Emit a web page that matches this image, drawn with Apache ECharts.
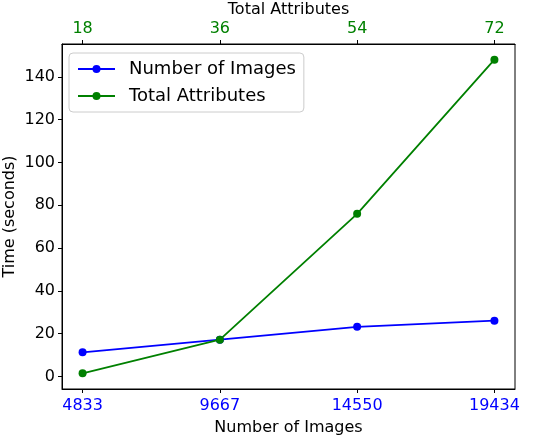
<!DOCTYPE html>
<html>
<head>
<meta charset="utf-8">
<script src="https://cdn.jsdelivr.net/npm/echarts@6/dist/echarts.min.js"></script>
<style>html,body{margin:0;padding:0;background:#fff;}#c{width:534px;height:437px;}</style>
</head>
<body>
<div id="c"></div>
<script>
const imageCounts = ['4833', '9667', '14550', '19434'];
const attributeCounts = ['18', '36', '54', '72'];
const imagesTime = [11.3, 17.2, 23.2, 26.1];
const attributesTime = [1.5, 17.2, 76, 148];
const yTicks = [0, 20, 40, 60, 80, 100, 120, 140];

const FONT = 'DejaVu Sans';
const BLUE = '#0000ff';
const GREEN = '#008000';
const positions = imageCounts.map((_, i) => i);

const xMin = -0.15, xMax = positions.length - 1 + 0.15;
const allY = imagesTime.concat(attributesTime);
const yLo = Math.min(...allY), yHi = Math.max(...allY);
const yPad = (yHi - yLo) * 0.05;

const chart = echarts.init(document.getElementById('c'));
chart.setOption({
  animation: false,
  backgroundColor: '#fff',
  textStyle: { fontFamily: FONT },
  grid: { left: 62, right: 19, top: 44, bottom: 48, containLabel: false, outerBoundsMode: 'none',
    show: true, borderColor: '#000', borderWidth: 1, backgroundColor: 'transparent' },
  legend: {
    orient: 'vertical', left: 69, top: 53,
    padding: [6, 8, 6, 8],
    itemWidth: 37, itemHeight: 10, itemGap: 7,
    borderColor: '#cccccc', borderWidth: 1, borderRadius: 4,
    backgroundColor: 'rgba(255,255,255,0.8)',
    textStyle: { fontFamily: FONT, fontSize: 18, color: '#000', lineHeight: 20, padding: [0, 0, 0, 9] },
    data: ['Number of Images', 'Total Attributes']
  },
  xAxis: [
    {
      type: 'value', position: 'bottom', min: xMin, max: xMax,
      name: 'Number of Images', nameLocation: 'middle', nameGap: 31, nameMoveOverlap: false,
      nameTextStyle: { fontFamily: FONT, fontSize: 16, color: '#000' },
      axisLine: { show: true, onZero: false, lineStyle: { color: '#000', width: 1 } },
      axisTick: { show: true, length: 4, lineStyle: { color: '#000' }, customValues: positions },
      axisLabel: { show: true, margin: 9, fontFamily: FONT, fontSize: 16, color: BLUE, customValues: positions,
        formatter: v => imageCounts[Math.round(v)] },
      splitLine: { show: false }
    },
    {
      type: 'value', position: 'top', min: xMin, max: xMax,
      name: 'Total Attributes', nameLocation: 'middle', nameGap: 26, nameMoveOverlap: false,
      nameTextStyle: { fontFamily: FONT, fontSize: 16, color: '#000' },
      axisLine: { show: true, onZero: false, lineStyle: { color: '#000', width: 1 } },
      axisTick: { show: true, length: 4, lineStyle: { color: '#000' }, customValues: positions },
      axisLabel: { show: true, margin: 7, fontFamily: FONT, fontSize: 16, color: GREEN, customValues: positions,
        formatter: v => attributeCounts[Math.round(v)] },
      splitLine: { show: false }
    }
  ],
  yAxis: {
    type: 'value', min: yLo - yPad, max: yHi + yPad,
    name: 'Time (seconds)', nameLocation: 'middle', nameGap: 44, nameRotate: 90, nameMoveOverlap: false,
    nameTextStyle: { fontFamily: FONT, fontSize: 16, color: '#000' },
    axisLine: { show: true, onZero: false, lineStyle: { color: '#000', width: 1 } },
    axisTick: { show: true, length: 4, lineStyle: { color: '#000' }, customValues: yTicks },
    axisLabel: { show: true, margin: 7, fontFamily: FONT, fontSize: 16, color: '#000', customValues: yTicks },
    splitLine: { show: false }
  },
  series: [
    {
      name: 'Number of Images', type: 'line', xAxisIndex: 0,
      data: imagesTime.map((v, i) => [positions[i], v]),
      symbol: 'circle', symbolSize: 8, showSymbol: true,
      lineStyle: { color: BLUE, width: 1.8 }, itemStyle: { color: BLUE }
    },
    {
      name: 'Total Attributes', type: 'line', xAxisIndex: 1,
      data: attributesTime.map((v, i) => [positions[i], v]),
      symbol: 'circle', symbolSize: 8, showSymbol: true,
      lineStyle: { color: GREEN, width: 1.8 }, itemStyle: { color: GREEN }
    }
  ]
});
</script>
</body>
</html>
